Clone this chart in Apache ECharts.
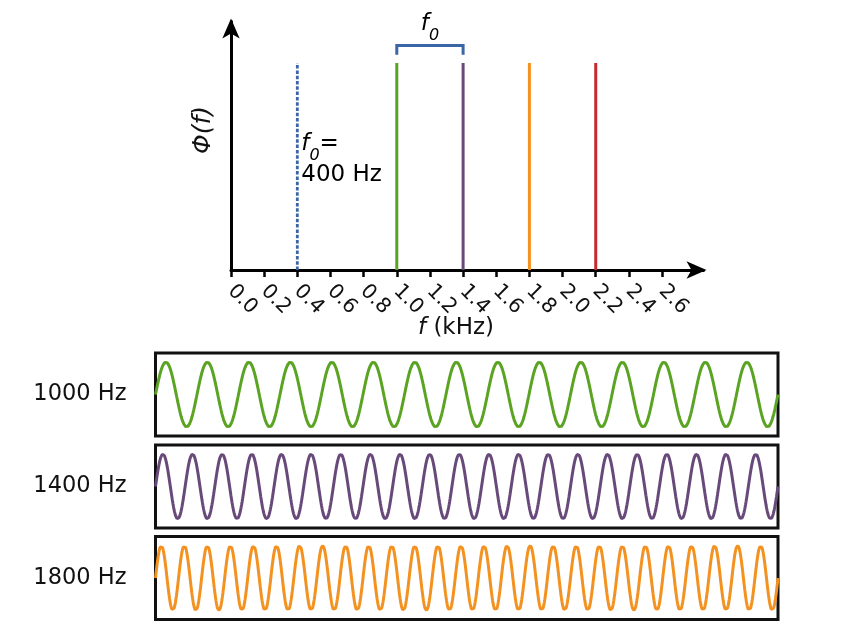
<!DOCTYPE html>
<html>
<head>
<meta charset="utf-8">
<script src="https://cdn.jsdelivr.net/npm/echarts@6/dist/echarts.min.js"></script>
<style>
html,body{margin:0;padding:0;background:#fff;}
#main{width:847px;height:626px;}
</style>
</head>
<body>
<div id="main"></div>
<script>
// ---- data ----
const freqTicks = [0.0, 0.2, 0.4, 0.6, 0.8, 1.0, 1.2, 1.4, 1.6, 1.8, 2.0, 2.2, 2.4, 2.6];
const fundamentalKHz = 0.4;
const fundamentalAmp = 1;
const harmonicFreqsKHz = [1.0, 1.4, 1.8, 2.2];
const harmonicAmps = [1, 1, 1, 1];
const waveLabels = ['1000 Hz', '1400 Hz', '1800 Hz'];
const waveFreqsHz = [1000, 1400, 1800];
const waveDurationMs = 15;

// ---- styles ----
const FONT = 'DejaVu Sans';
const harmonicColors = ['#5ba423', '#684a7a', '#f39220', '#c62a2e'];
const blue = '#3a66a6';
const INK = '#111';

const chart = echarts.init(document.getElementById('main'), null, {renderer: 'canvas'});

const grids = [
  {left: 231, top: 21.6, width: 472.5, height: 248.4},
  {left: 155.5, top: 353, width: 622.5, height: 83, show: true, borderColor: INK, borderWidth: 3},
  {left: 155.5, top: 445, width: 622.5, height: 83, show: true, borderColor: INK, borderWidth: 3},
  {left: 155.5, top: 536.5, width: 622.5, height: 83, show: true, borderColor: INK, borderWidth: 3}
];

const xAxes = [{
  type: 'value', gridIndex: 0, min: 0, max: 2.85,
  axisLine: {show: true, onZero: false, lineStyle: {color: '#000', width: 3},
             symbol: ['none', 'arrow'], symbolSize: [13, 20], symbolOffset: [0, 3]},
  axisTick: {show: true, length: 7, lineStyle: {color: '#000', width: 2.5}, customValues: freqTicks},
  axisLabel: {show: true, rotate: -45, margin: 18, customValues: freqTicks,
              formatter: v => v.toFixed(1), fontFamily: FONT, fontSize: 20.5, color: INK},
  splitLine: {show: false}
}];
const yAxes = [{
  type: 'value', gridIndex: 0, min: 0, max: 1.2,
  axisLine: {show: true, onZero: false, lineStyle: {color: '#000', width: 3},
             symbol: ['none', 'arrow'], symbolSize: [13, 20], symbolOffset: [0, 3]},
  axisTick: {show: false}, axisLabel: {show: false}, splitLine: {show: false}
}];
waveLabels.forEach((lab, i) => {
  xAxes.push({type: 'value', gridIndex: i + 1, min: 0, max: waveDurationMs, show: false});
  yAxes.push({type: 'value', gridIndex: i + 1, min: -1.28, max: 1.28,
    name: lab, nameLocation: 'middle', nameRotate: 0, nameGap: 29,
    nameTextStyle: {fontFamily: FONT, fontSize: 22.5, color: INK, align: 'right', verticalAlign: 'middle'},
    axisLine: {show: false}, axisTick: {show: false}, axisLabel: {show: false}, splitLine: {show: false}});
});

const series = [];
// fundamental (dashed)
series.push({type: 'line', xAxisIndex: 0, yAxisIndex: 0, showSymbol: false, silent: true,
  data: [[fundamentalKHz, 0], [fundamentalKHz, fundamentalAmp]],
  lineStyle: {color: blue, width: 2.8, type: [3.5, 1.8]}});
harmonicFreqsKHz.forEach((f, i) => {
  series.push({type: 'line', xAxisIndex: 0, yAxisIndex: 0, showSymbol: false, silent: true,
    data: [[f, 0], [f, harmonicAmps[i]]],
    lineStyle: {color: harmonicColors[i], width: 3}});
});
// bracket between first two harmonics
series.push({type: 'line', xAxisIndex: 0, yAxisIndex: 0, showSymbol: false, silent: true,
  data: [[harmonicFreqsKHz[0], 1.04], [harmonicFreqsKHz[0], 1.085], [harmonicFreqsKHz[1], 1.085], [harmonicFreqsKHz[1], 1.04]],
  lineStyle: {color: blue, width: 3, cap: 'butt', join: 'miter'}});

// waveforms
const nSamples = 2400;
waveFreqsHz.forEach((fz, i) => {
  const pts = [];
  for (let k = 0; k <= nSamples; k++) {
    const t = waveDurationMs * k / nSamples;
    pts.push([t, Math.sin(2 * Math.PI * fz * t / 1000)]);
  }
  series.push({type: 'line', xAxisIndex: i + 1, yAxisIndex: i + 1, showSymbol: false, silent: true,
    data: pts, lineStyle: {color: harmonicColors[i], width: 3}});
});

chart.setOption({
  animation: false,
  backgroundColor: '#fff',
  grid: grids, xAxis: xAxes, yAxis: yAxes, series: series
});

// annotations anchored to data coordinates
const bracketMid = chart.convertToPixel({gridIndex: 0}, [(harmonicFreqsKHz[0] + harmonicFreqsKHz[1]) / 2, 1.085]);
const fundTop = chart.convertToPixel({gridIndex: 0}, [fundamentalKHz, 0.6]);
const sub = {fontFamily: FONT, fontSize: 16, fontStyle: 'italic', color: INK, verticalAlign: 'bottom', lineHeight: 31};
const main = {fontFamily: FONT, fontSize: 23, fontStyle: 'italic', color: INK, lineHeight: 27, verticalAlign: 'top'};
chart.setOption({
  graphic: [
    {type: 'text', x: bracketMid[0], y: bracketMid[1] - 2,
     style: {text: '{i|f}{s|0}', align: 'center', verticalAlign: 'bottom', rich: {i: main, s: sub}}},
    {type: 'text', x: fundTop[0] + 4, y: 133,
     style: {text: '{i|f}{s|0}{n|=}\n{n|400 Hz}', align: 'left', verticalAlign: 'top',
       rich: {i: main, s: sub,
              n: {fontFamily: FONT, fontSize: 23, color: INK, lineHeight: 27, verticalAlign: 'top'}}}},
    {type: 'text', x: 456, y: 328,
     style: {text: '{i|f} (kHz)', align: 'center', verticalAlign: 'middle',
       rich: {i: {fontFamily: FONT, fontSize: 23, fontStyle: 'italic', color: INK}},
       fontFamily: FONT, fontSize: 23, fill: INK}},
    {type: 'text', x: 203, y: 130, rotation: Math.PI / 2,
     style: {text: 'Φ(f)', align: 'center', verticalAlign: 'middle', fontFamily: FONT, fontSize: 25,
       fontStyle: 'italic', fill: INK}}
  ]
});
</script>
</body>
</html>
